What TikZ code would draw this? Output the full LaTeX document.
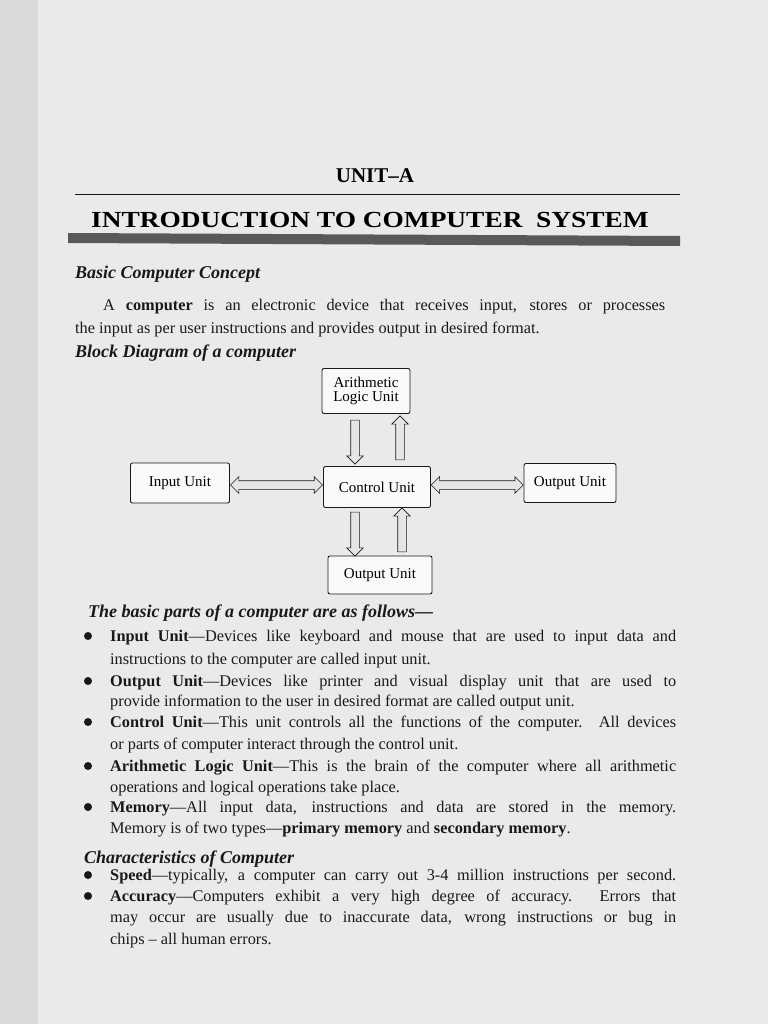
\documentclass[tikz,border=0pt]{standalone}
\usepackage{fontspec}
\usepackage{graphicx}
\setmainfont{Liberation Serif}
\usetikzlibrary{shapes.arrows,calc}
\definecolor{paper}{RGB}{236,234,232}
\definecolor{ink}{RGB}{25,25,25}
\tikzset{
  blk/.style={draw=ink,line width=0.9pt,rounded corners=2pt,fill=white!70!paper,align=center,font=\fontsize{15}{16}\selectfont,inner sep=5pt},
  harr/.style={double arrow,draw=ink,fill=gray!20,line width=0.6pt,minimum height=#1,inner sep=4pt,double arrow head extend=4pt,anchor=center},
  varr/.style={single arrow,draw=ink,fill=gray!20,line width=0.6pt,minimum height=44pt,inner sep=4pt,single arrow head extend=4pt},
  txt/.style={anchor=base west,inner sep=0pt,font=\fontsize{16.3}{18}\selectfont,text=ink},
  head/.style={anchor=base west,inner sep=0pt,font=\fontsize{18}{20}\selectfont\bfseries\itshape,text=ink},
  bul/.style={circle,fill=ink,inner sep=0pt,minimum size=8pt}
}
\newcommand{\jl}[1]{\makebox[566pt][s]{#1}}
\begin{document}
\begin{tikzpicture}[x=1pt,y=-1pt]
\fill[paper] (0,0) rectangle (768,1024);
\fill[gray!30] (0,0) rectangle (38,1024);
\useasboundingbox (0,0) rectangle (768,1024);
% title
\node[anchor=base,font=\fontsize{21}{24}\selectfont\bfseries] (unit) at (375,183) {UNIT–A};
\draw[ink,line width=0.8pt] (75,194) -- (680,194);
\node[anchor=base,font=\fontsize{23}{26}\selectfont\bfseries] (title) at (370,228) {\scalebox{1.19}[1]{INTRODUCTION TO COMPUTER\ \ SYSTEM}};
\fill[gray!70!black] (68,233) -- (680,236) -- (680,246) -- (68,243) -- cycle;
\node[head] (h1) at (75,278) {Basic Computer Concept};
\node[txt] (p1) at (103,310) {\makebox[562pt][s]{A \textbf{computer} is an electronic device that receives input, stores or processes}};
\node[txt] (p2) at (75,333) {the input as per user instructions and provides output in desired format.};
\node[head] (h2) at (75,357) {Block Diagram of a computer};
% diagram
\node[blk,minimum width=88pt,minimum height=45pt] (alu) at (366,391) {Arithmetic\\[-2pt]Logic Unit};
\node[blk,minimum width=99pt,minimum height=40pt] (in) at (180,483) {Input Unit};
\node[blk,minimum width=107pt,minimum height=41pt] (cu) at (377,487) {Control Unit};
\node[blk,minimum width=92pt,minimum height=39pt] (outr) at (570,483) {Output Unit};
\node[blk,minimum width=104pt,minimum height=38pt] (outb) at (380,575) {Output Unit};
\node[harr=92pt] (a1) at ($(in.east)!0.5!(cu.west)$) {};
\node[harr=92pt] (a2) at ($(cu.east)!0.5!(outr.west)$) {};
\node[varr,rotate=-90] (d1) at (355,440) {};
\node[varr,rotate=90] (u1) at (400,440) {};
\node[varr,rotate=-90] (d2) at (355,532) {};
\node[varr,rotate=90] (u2) at (402,532) {};
% parts
\node[head] (h3) at (88,617) {The basic parts of a computer are as follows—};
\foreach \y in {641,686,727,771,812,880,901} \node[bul] at (88,\y-5) {};
\node[txt] at (110,641) {\jl{\textbf{Input Unit}—Devices like keyboard and mouse that are used to input data and}};
\node[txt] at (110,664) {instructions to the computer are called input unit.};
\node[txt] at (110,686) {\jl{\textbf{Output Unit}—Devices like printer and visual display unit that are used to}};
\node[txt] at (110,706) {provide information to the user in desired format are called output unit.};
\node[txt] at (110,727) {\jl{\textbf{Control Unit}—This unit controls all the functions of the computer. All devices}};
\node[txt] at (110,749) {or parts of computer interact through the control unit.};
\node[txt] at (110,771) {\jl{\textbf{Arithmetic Logic Unit}—This is the brain of the computer where all arithmetic}};
\node[txt] at (110,792) {operations and logical operations take place.};
\node[txt] at (110,812) {\jl{\textbf{Memory}—All input data, instructions and data are stored in the memory.}};
\node[txt] at (110,833) {Memory is of two types—\textbf{primary memory} and \textbf{secondary memory}.};
\node[head] (h4) at (84,863) {Characteristics of Computer};
\node[txt] at (110,880) {\jl{\textbf{Speed}—typically, a computer can carry out 3-4 million instructions per second.}};
\node[txt] at (110,901) {\jl{\textbf{Accuracy}—Computers exhibit a very high degree of accuracy. Errors that}};
\node[txt] at (110,922) {\jl{may occur are usually due to inaccurate data, wrong instructions or bug in}};
\node[txt] at (110,944) {chips – all human errors.};
\end{tikzpicture}
\end{document}
